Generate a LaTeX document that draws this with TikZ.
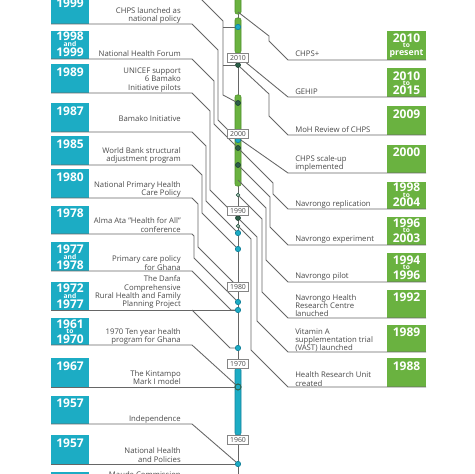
\documentclass[tikz,border=0pt]{standalone}
\usepackage{fontspec}
\setmainfont{Open Sans}
\definecolor{tealc}{HTML}{1CACC4}
\definecolor{tealdk}{HTML}{15809A}
\definecolor{greenc}{HTML}{6AB240}
\definecolor{greendk}{HTML}{4E8F2C}
\definecolor{darkn}{HTML}{2C5E48}
\definecolor{linec}{HTML}{666666}
\definecolor{txtc}{HTML}{4A4A4A}
\tikzset{
  conn/.style={draw=linec, line width=0.65pt},
  yr/.style={text=white, font=\bfseries\fontsize{9}{9}\selectfont, inner sep=0pt},
  yrs/.style={text=white, font=\bfseries\fontsize{5}{5}\selectfont, inner sep=0pt},
  yrp/.style={text=white, font=\bfseries\fontsize{6.6}{6.6}\selectfont, inner sep=0pt},
  llab/.style={anchor=east, align=right, text=txtc, font=\fontsize{5.8}{6.2}\selectfont, inner sep=0pt},
  rlab/.style={anchor=west, align=left, text=txtc, font=\fontsize{5.8}{6.2}\selectfont, inner sep=0pt},
  tdot/.style={circle, fill=tealc, draw=tealdk, line width=0.4pt, minimum size=3.9pt, inner sep=0pt},
  ddot/.style={circle, fill=darkn, draw=darkn!70!black, line width=0.4pt, minimum size=3.6pt, inner sep=0pt},
  sdot/.style={circle, fill=white, draw=darkn, line width=0.5pt, minimum size=2.4pt, inner sep=0pt},
  hdot/.style={circle, fill=tealc, draw=darkn, line width=0.6pt, minimum size=4.4pt, inner sep=0pt},
  tl/.style={draw=linec!80, fill=white, line width=0.5pt, text=txtc, font=\fontsize{5.2}{5.2}\selectfont, minimum width=16pt, minimum height=6.6pt, inner sep=0.5pt},
  gbar/.style={fill=greenc, draw=greendk, line width=0.4pt, rounded corners=1.5pt},
  tbar/.style={fill=tealc, draw=tealdk, line width=0.4pt, rounded corners=1.5pt}
}
\begin{document}
\begin{tikzpicture}[x=0.75pt,y=-0.75pt]
\useasboundingbox (0,0) rectangle (474,474);
\clip (0,0) rectangle (474,474);
\fill[white] (0,0) rectangle (474,474);

% ---------- left boxes ----------
\fill[tealc] (51,-6) rectangle (89,24);
\fill[tealc] (51,31) rectangle (89,59);
\fill[tealc] (51,64) rectangle (89,93);
\fill[tealc] (51,103) rectangle (89,132);
\fill[tealc] (51,136) rectangle (89,165);
\fill[tealc] (51,169) rectangle (89,198);
\fill[tealc] (51,206) rectangle (89,234);
\fill[tealc] (51,242) rectangle (89,271);
\fill[tealc] (51,282) rectangle (89,310);
\fill[tealc] (51,318) rectangle (89,345);
\fill[tealc] (51,358) rectangle (89,387);
\fill[tealc] (51,396) rectangle (89,424);
\fill[tealc] (51,435) rectangle (89,464);
\fill[tealc] (51,472) rectangle (89,500);

% ---------- right boxes ----------
\fill[greenc] (387,31) rectangle (426,60);
\fill[greenc] (387,68) rectangle (426,97);
\fill[greenc] (387,106) rectangle (426,135);
\fill[greenc] (387,145) rectangle (426,173);
\fill[greenc] (387,182) rectangle (426,209);
\fill[greenc] (387,217) rectangle (426,245);
\fill[greenc] (387,253) rectangle (426,282);
\fill[greenc] (387,290) rectangle (426,318);
\fill[greenc] (387,325) rectangle (426,352);
\fill[greenc] (387,358) rectangle (426,387);

% ---------- timeline base ----------
\draw[linec, line width=0.6pt] (238,0) -- (238,474);
\draw[gbar] (235,-5) rectangle (241,14);
\draw[gbar] (235,18) rectangle (241,53);
\draw[gbar] (235,95) rectangle (241,186);
\draw[tbar] (235,368) rectangle (241,435);

% ---------- timeline dots ----------
\node[tdot] (d27) at (238,27) {};
\node[ddot] (d65) at (238,65) {};
\node[ddot] (d103) at (238,103) {};
\node[tdot] (d140) at (238,140) {};
\node[ddot] (d148) at (238,148) {};
\node[ddot] (d165) at (238,165) {};
\node[sdot] (d195) at (238,195) {};
\node[ddot] (d218) at (238,218) {};
\node[sdot] (d226) at (238,226) {};
\node[tdot] (d233) at (238,233) {};
\node[tdot] (d249) at (238,249) {};
\node[tdot] (d302) at (238,302) {};
\node[tdot] (d310) at (238,310) {};
\node[tdot] (d348) at (238,348) {};
\node[hdot] (d387) at (238,387) {};
\node[tdot] (d464) at (238,464) {};
\coordinate (c12) at (238,12);
\coordinate (c56) at (238,56);
\coordinate (c180) at (238,180);
\coordinate (c287) at (238,287);

% ---------- connectors ----------
\draw[conn] (200,-2) -- (223,21) -- (223,95) -- (d103.center);
\draw[conn] (223,27) -- (d27.west);
\draw[conn] (223,65) -- (d65.west);
% left
\draw[conn] (51,24) -- (192,24) -- (218,50) -- (218,120) -- (d140.north west);
\draw[conn] (51,59) -- (192,59) -- (214,81) -- (214,124) -- (d148.north west);
\draw[conn] (51,93) -- (192,93) -- (210,111) -- (210,190) -- (d218.north west);
\draw[conn] (51,132) -- (192,132) -- (206,146) -- (206,201) -- (d233.north west);
\draw[conn] (51,165) -- (192,165) -- (202,175) -- (202,213) -- (d249.north west);
\draw[conn] (51,198) -- (192,198) -- (198,204) -- (198,247) -- (c287);
\draw[conn] (51,234) -- (192,234) -- (194,236) -- (194,258) -- (d302.north west);
\draw[conn] (51,271) -- (192,271) -- (231,310) -- (d310.west);
\draw[conn] (51,310) -- (d310.west);
\draw[conn] (192,310) -- (230,348) -- (d348.west);
\draw[conn] (51,345) -- (192,345) -- (d387.north west);
\draw[conn] (51,387) -- (d387.west);
\draw[conn] (51,424) -- (192,424) -- (d464.north west);
\draw[conn] (51,464) -- (d464.west);
% right
\draw[conn] (426,60) -- (288,60) -- (269,41) -- (269,36) -- (c12);
\draw[conn] (426,97) -- (288,97) -- (c56);
\draw[conn] (426,135) -- (288,135) -- (269,116) -- (269,94) -- (d65.south east);
\draw[conn] (426,173) -- (288,173) -- (d140.east);
\draw[conn] (426,209) -- (288,209) -- (273,194) -- (273,183) -- (d148.south east);
\draw[conn] (426,245) -- (288,245) -- (270,227) -- (270,197) -- (d165.south east);
\draw[conn] (426,282) -- (288,282) -- (266,260) -- (266,208) -- (c180);
\draw[conn] (426,318) -- (288,318) -- (262,292) -- (262,219) -- (d195.south east);
\draw[conn] (426,352) -- (288,352) -- (257,321) -- (257,237) -- (d218.south east);
\draw[conn] (426,387) -- (288,387) -- (251,350) -- (251,239) -- (d226.south east);

% redraw dots on top
\foreach \y in {27,140,233,249,302,310,348,464}{\node[tdot] at (238,\y) {};}
\foreach \y in {65,103,148,165,218}{\node[ddot] at (238,\y) {};}
\foreach \y in {195,226}{\node[sdot] at (238,\y) {};}
\node[hdot] at (238,387) {};

% ---------- timeline year labels ----------
\node[tl] (y2010) at (238,58) {2010};
\node[tl] (y2000) at (238,134) {2000};
\node[tl] (y1990) at (238,211) {1990};
\node[tl] (y1980) at (238,287) {1980};
\node[tl] (y1970) at (238,364) {1970};
\node[tl] (y1960) at (238,440) {1960};

% ---------- left box texts ----------
\node[yr] at (70,3.5) {1999};
\node[yr] at (70,36.5) {1998}; \node[yrs] at (70,44) {and}; \node[yr] at (70,52.5) {1999};
\node[yr] at (70,72.7) {1989};
\node[yr] at (70,111) {1987};
\node[yr] at (70,144.3) {1985};
\node[yr] at (70,177.7) {1980};
\node[yr] at (70,213.3) {1978};
\node[yr] at (70,249) {1977}; \node[yrs] at (70,257.3) {and}; \node[yr] at (70,265) {1978};
\node[yr] at (70,288.3) {1972}; \node[yrs] at (70,296) {and}; \node[yr] at (70,304) {1977};
\node[yr] at (70,324.3) {1961}; \node[yrs] at (70,331.7) {to}; \node[yr] at (70,339.3) {1970};
\node[yr] at (70,366.7) {1967};
\node[yr] at (70,403.3) {1957};
\node[yr] at (70,443.3) {1957};

% ---------- right box texts ----------
\node[yr] at (406.5,38) {2010}; \node[yrs] at (406.5,45.3) {to}; \node[yrp] at (406.5,53.5) {present};
\node[yr] at (406.5,76) {2010}; \node[yrs] at (406.5,83) {to}; \node[yr] at (406.5,90) {2015};
\node[yr] at (406.5,114.7) {2009};
\node[yr] at (406.5,152.7) {2000};
\node[yr] at (406.5,187) {1998}; \node[yrs] at (406.5,195) {to}; \node[yr] at (406.5,202.7) {2004};
\node[yr] at (406.5,223) {1996}; \node[yrs] at (406.5,230.5) {to}; \node[yr] at (406.5,238) {2003};
\node[yr] at (406.5,260) {1994}; \node[yrs] at (406.5,267.5) {to}; \node[yr] at (406.5,275) {1996};
\node[yr] at (406.5,297.7) {1992};
\node[yr] at (406.5,332.3) {1989};
\node[yr] at (406.5,366.7) {1988};

% ---------- left labels ----------
\node[llab] at (181,15.3) {CHPS launched as\\national policy};
\node[llab] at (181,54) {National Health Forum};
\node[llab] at (181,80) {UNICEF support\\6 Bamako\\Initiative pilots};
\node[llab] at (181,118.5) {Bamako Initiative};
\node[llab] at (181,155.7) {World Bank structural\\adjustment program};
\node[llab] at (181,189.3) {National Primary Health\\Care Policy};
\node[llab] at (181,225) {Alma Ata "Health for All"\\conference};
\node[llab] at (181,263.2) {Primary care policy\\for Ghana};
\node[llab] at (181,292.3) {The Danfa\\Comprehensive\\Rural Health and Family\\Planning Project};
\node[llab] at (181,336.3) {1970 Ten year health\\program for Ghana};
\node[llab] at (181,377.8) {The Kintampo\\Mark I model};
\node[llab] at (181,419.3) {Independence};
\node[llab] at (181,455.2) {National Health\\and Policies};
\node[llab] at (181,474.5) {Maude Commission};

% ---------- right labels ----------
\node[rlab] at (295,54) {CHPS+};
\node[rlab] at (295,91.7) {GEHIP};
\node[rlab] at (295,130) {MoH Review of CHPS};
\node[rlab] at (295,163.6) {CHPS scale-up\\implemented};
\node[rlab] at (295,204) {Navrongo replication};
\node[rlab] at (295,240) {Navrongo experiment};
\node[rlab] at (295,276.7) {Navrongo pilot};
\node[rlab] at (295,305.5) {Navrongo Health\\Research Centre\\lanuched};
\node[rlab] at (295,340.3) {Vitamin A\\supplementation trial\\(VAST) launched};
\node[rlab] at (295,379) {Health Research Unit\\created};
\end{tikzpicture}
\end{document}
